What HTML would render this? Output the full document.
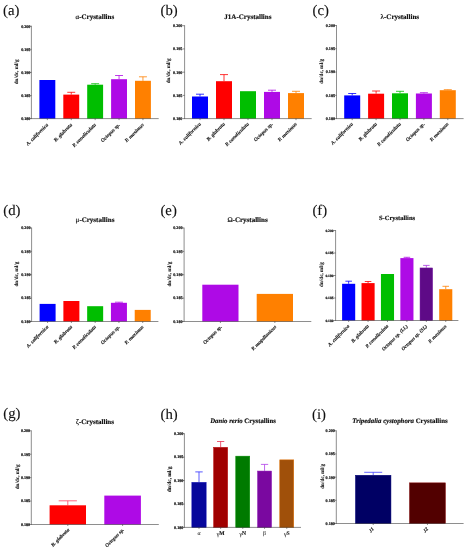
<!DOCTYPE html>
<html><head><meta charset="utf-8"><title>Crystallins dn/dc</title>
<style>
html,body{margin:0;padding:0;background:#fff;}
svg{display:block;font-family:"Liberation Serif", serif;fill:#000;}
svg text{fill:#111;}
</style></head><body>
<svg width="468" height="550" viewBox="0 0 468 550" text-rendering="geometricPrecision">
<rect width="468" height="550" fill="#fff"/>
<rect x="39.40" y="80.00" width="15.90" height="38.60" fill="#0000FF"/>
<path d="M71.25 94.60V92.30M67.28 92.30H75.22" stroke="#FF0000" stroke-width="0.8" fill="none"/>
<rect x="63.30" y="94.60" width="15.90" height="24.00" fill="#FF0000"/>
<path d="M95.15 84.70V83.70M91.17 83.70H99.12" stroke="#00BE00" stroke-width="0.8" fill="none"/>
<rect x="87.20" y="84.70" width="15.90" height="33.90" fill="#00BE00"/>
<path d="M119.05 79.20V75.50M115.07 75.50H123.03" stroke="#AE0AE6" stroke-width="0.8" fill="none"/>
<rect x="111.10" y="79.20" width="15.90" height="39.40" fill="#AE0AE6"/>
<path d="M142.95 80.80V76.80M138.97 76.80H146.92" stroke="#FF8000" stroke-width="0.8" fill="none"/>
<rect x="135.00" y="80.80" width="15.90" height="37.80" fill="#FF8000"/>
<path d="M31.40 25.80V118.60M31.00 118.60H158.70" stroke="#303030" stroke-width="0.55" fill="none"/>
<path d="M29.40 26.20H31.40" stroke="#303030" stroke-width="0.55"/>
<text transform="translate(30.40 27.55) scale(0.1)" font-size="41.0" font-weight="bold" text-anchor="end" stroke="#111" stroke-width="2.00">0.200</text>
<path d="M29.40 49.30H31.40" stroke="#303030" stroke-width="0.55"/>
<text transform="translate(30.40 50.65) scale(0.1)" font-size="41.0" font-weight="bold" text-anchor="end" stroke="#111" stroke-width="2.00">0.195</text>
<path d="M29.40 72.40H31.40" stroke="#303030" stroke-width="0.55"/>
<text transform="translate(30.40 73.75) scale(0.1)" font-size="41.0" font-weight="bold" text-anchor="end" stroke="#111" stroke-width="2.00">0.190</text>
<path d="M29.40 95.50H31.40" stroke="#303030" stroke-width="0.55"/>
<text transform="translate(30.40 96.85) scale(0.1)" font-size="41.0" font-weight="bold" text-anchor="end" stroke="#111" stroke-width="2.00">0.185</text>
<path d="M29.40 118.60H31.40" stroke="#303030" stroke-width="0.55"/>
<text transform="translate(30.40 119.95) scale(0.1)" font-size="41.0" font-weight="bold" text-anchor="end" stroke="#111" stroke-width="2.00">0.180</text>
<text transform="translate(18.30 71.90) rotate(-90) scale(0.1)" font-size="52.0" font-weight="bold" text-anchor="middle" stroke="#111" stroke-width="0.90">dn/dc, ml/g</text>
<path d="M47.35 118.60v1.5" stroke="#303030" stroke-width="0.55"/>
<text transform="translate(48.55 125.20) rotate(-45) scale(0.1)" font-size="51.5" font-weight="bold" font-style="italic" text-anchor="end" stroke="#111" stroke-width="1.20">A. californica</text>
<path d="M71.25 118.60v1.5" stroke="#303030" stroke-width="0.55"/>
<text transform="translate(72.45 125.20) rotate(-45) scale(0.1)" font-size="51.5" font-weight="bold" font-style="italic" text-anchor="end" stroke="#111" stroke-width="1.20">B. glabrata</text>
<path d="M95.15 118.60v1.5" stroke="#303030" stroke-width="0.55"/>
<text transform="translate(96.35 125.20) rotate(-45) scale(0.1)" font-size="51.5" font-weight="bold" font-style="italic" text-anchor="end" stroke="#111" stroke-width="1.20">P. canaliculata</text>
<path d="M119.05 118.60v1.5" stroke="#303030" stroke-width="0.55"/>
<text transform="translate(120.25 125.20) rotate(-45) scale(0.1)" font-size="51.5" font-weight="bold" font-style="italic" text-anchor="end" stroke="#111" stroke-width="1.20">Octopus sp.</text>
<path d="M142.95 118.60v1.5" stroke="#303030" stroke-width="0.55"/>
<text transform="translate(144.15 125.20) rotate(-45) scale(0.1)" font-size="51.5" font-weight="bold" font-style="italic" text-anchor="end" stroke="#111" stroke-width="1.20">P. maximus</text>
<text transform="translate(94.80 19.10) scale(0.1)" font-size="70.0" font-weight="bold" text-anchor="middle" stroke="#111" stroke-width="1.80"><tspan font-weight="normal">α</tspan>-Crystallins</text>
<text transform="translate(3.00 15.30) scale(0.1)" font-size="148.0" font-weight="normal" text-anchor="start" stroke="#111" stroke-width="1.20">(a)</text>
<path d="M200.00 96.50V94.20M196.00 94.20H204.00" stroke="#0000FF" stroke-width="0.8" fill="none"/>
<rect x="192.00" y="96.50" width="16.00" height="22.10" fill="#0000FF"/>
<path d="M224.00 81.20V74.60M220.00 74.60H228.00" stroke="#FF0000" stroke-width="0.8" fill="none"/>
<rect x="216.00" y="81.20" width="16.00" height="37.40" fill="#FF0000"/>
<rect x="240.00" y="91.20" width="16.00" height="27.40" fill="#00BE00"/>
<path d="M272.00 91.90V90.20M268.00 90.20H276.00" stroke="#AE0AE6" stroke-width="0.8" fill="none"/>
<rect x="264.00" y="91.90" width="16.00" height="26.70" fill="#AE0AE6"/>
<path d="M296.00 93.10V91.30M292.00 91.30H300.00" stroke="#FF8000" stroke-width="0.8" fill="none"/>
<rect x="288.00" y="93.10" width="16.00" height="25.50" fill="#FF8000"/>
<path d="M184.60 25.30V118.60M184.20 118.60H311.70" stroke="#303030" stroke-width="0.55" fill="none"/>
<path d="M182.60 25.70H184.60" stroke="#303030" stroke-width="0.55"/>
<text transform="translate(182.30 27.05) scale(0.1)" font-size="41.0" font-weight="bold" text-anchor="end" stroke="#111" stroke-width="2.00">0.200</text>
<path d="M182.60 48.92H184.60" stroke="#303030" stroke-width="0.55"/>
<text transform="translate(182.30 50.28) scale(0.1)" font-size="41.0" font-weight="bold" text-anchor="end" stroke="#111" stroke-width="2.00">0.195</text>
<path d="M182.60 72.15H184.60" stroke="#303030" stroke-width="0.55"/>
<text transform="translate(182.30 73.50) scale(0.1)" font-size="41.0" font-weight="bold" text-anchor="end" stroke="#111" stroke-width="2.00">0.190</text>
<path d="M182.60 95.38H184.60" stroke="#303030" stroke-width="0.55"/>
<text transform="translate(182.30 96.73) scale(0.1)" font-size="41.0" font-weight="bold" text-anchor="end" stroke="#111" stroke-width="2.00">0.185</text>
<path d="M182.60 118.60H184.60" stroke="#303030" stroke-width="0.55"/>
<text transform="translate(182.30 119.95) scale(0.1)" font-size="41.0" font-weight="bold" text-anchor="end" stroke="#111" stroke-width="2.00">0.180</text>
<text transform="translate(170.40 70.85) rotate(-90) scale(0.1)" font-size="52.0" font-weight="bold" text-anchor="middle" stroke="#111" stroke-width="0.90">dn/dc, ml/g</text>
<path d="M200.00 118.60v1.5" stroke="#303030" stroke-width="0.55"/>
<text transform="translate(201.20 124.40) rotate(-45) scale(0.1)" font-size="51.5" font-weight="bold" font-style="italic" text-anchor="end" stroke="#111" stroke-width="1.20">A. californica</text>
<path d="M224.00 118.60v1.5" stroke="#303030" stroke-width="0.55"/>
<text transform="translate(225.20 124.40) rotate(-45) scale(0.1)" font-size="51.5" font-weight="bold" font-style="italic" text-anchor="end" stroke="#111" stroke-width="1.20">B. glabrata</text>
<path d="M248.00 118.60v1.5" stroke="#303030" stroke-width="0.55"/>
<text transform="translate(249.20 124.40) rotate(-45) scale(0.1)" font-size="51.5" font-weight="bold" font-style="italic" text-anchor="end" stroke="#111" stroke-width="1.20">P. canaliculata</text>
<path d="M272.00 118.60v1.5" stroke="#303030" stroke-width="0.55"/>
<text transform="translate(273.20 124.40) rotate(-45) scale(0.1)" font-size="51.5" font-weight="bold" font-style="italic" text-anchor="end" stroke="#111" stroke-width="1.20">Octopus sp.</text>
<path d="M296.00 118.60v1.5" stroke="#303030" stroke-width="0.55"/>
<text transform="translate(297.20 124.40) rotate(-45) scale(0.1)" font-size="51.5" font-weight="bold" font-style="italic" text-anchor="end" stroke="#111" stroke-width="1.20">P. maximus</text>
<text transform="translate(247.90 18.80) scale(0.1)" font-size="70.0" font-weight="bold" text-anchor="middle" stroke="#111" stroke-width="1.80">J1A-Crystallins</text>
<text transform="translate(160.50 15.30) scale(0.1)" font-size="148.0" font-weight="normal" text-anchor="start" stroke="#111" stroke-width="1.20">(b)</text>
<path d="M352.20 95.40V93.50M348.20 93.50H356.20" stroke="#0000FF" stroke-width="0.8" fill="none"/>
<rect x="344.20" y="95.40" width="16.00" height="23.20" fill="#0000FF"/>
<path d="M376.10 93.70V91.00M372.10 91.00H380.10" stroke="#FF0000" stroke-width="0.8" fill="none"/>
<rect x="368.10" y="93.70" width="16.00" height="24.90" fill="#FF0000"/>
<path d="M400.00 93.30V91.30M396.00 91.30H404.00" stroke="#00BE00" stroke-width="0.8" fill="none"/>
<rect x="392.00" y="93.30" width="16.00" height="25.30" fill="#00BE00"/>
<path d="M423.90 93.50V92.70M419.90 92.70H427.90" stroke="#AE0AE6" stroke-width="0.8" fill="none"/>
<rect x="415.90" y="93.50" width="16.00" height="25.10" fill="#AE0AE6"/>
<path d="M447.80 90.20V89.70M443.80 89.70H451.80" stroke="#FF8000" stroke-width="0.8" fill="none"/>
<rect x="439.80" y="90.20" width="16.00" height="28.40" fill="#FF8000"/>
<path d="M336.50 25.10V118.60M336.10 118.60H463.60" stroke="#303030" stroke-width="0.55" fill="none"/>
<path d="M334.50 25.50H336.50" stroke="#303030" stroke-width="0.55"/>
<text transform="translate(335.00 26.85) scale(0.1)" font-size="41.0" font-weight="bold" text-anchor="end" stroke="#111" stroke-width="2.00">0.200</text>
<path d="M334.50 48.77H336.50" stroke="#303030" stroke-width="0.55"/>
<text transform="translate(335.00 50.13) scale(0.1)" font-size="41.0" font-weight="bold" text-anchor="end" stroke="#111" stroke-width="2.00">0.195</text>
<path d="M334.50 72.05H336.50" stroke="#303030" stroke-width="0.55"/>
<text transform="translate(335.00 73.40) scale(0.1)" font-size="41.0" font-weight="bold" text-anchor="end" stroke="#111" stroke-width="2.00">0.190</text>
<path d="M334.50 95.32H336.50" stroke="#303030" stroke-width="0.55"/>
<text transform="translate(335.00 96.68) scale(0.1)" font-size="41.0" font-weight="bold" text-anchor="end" stroke="#111" stroke-width="2.00">0.185</text>
<path d="M334.50 118.60H336.50" stroke="#303030" stroke-width="0.55"/>
<text transform="translate(335.00 119.95) scale(0.1)" font-size="41.0" font-weight="bold" text-anchor="end" stroke="#111" stroke-width="2.00">0.180</text>
<text transform="translate(323.00 71.25) rotate(-90) scale(0.1)" font-size="52.0" font-weight="bold" text-anchor="middle" stroke="#111" stroke-width="0.90">dn/dc, ml/g</text>
<path d="M352.20 118.60v1.5" stroke="#303030" stroke-width="0.55"/>
<text transform="translate(353.40 124.40) rotate(-45) scale(0.1)" font-size="51.5" font-weight="bold" font-style="italic" text-anchor="end" stroke="#111" stroke-width="1.20">A. californica</text>
<path d="M376.10 118.60v1.5" stroke="#303030" stroke-width="0.55"/>
<text transform="translate(377.30 124.40) rotate(-45) scale(0.1)" font-size="51.5" font-weight="bold" font-style="italic" text-anchor="end" stroke="#111" stroke-width="1.20">B. glabrata</text>
<path d="M400.00 118.60v1.5" stroke="#303030" stroke-width="0.55"/>
<text transform="translate(401.20 124.40) rotate(-45) scale(0.1)" font-size="51.5" font-weight="bold" font-style="italic" text-anchor="end" stroke="#111" stroke-width="1.20">P. canaliculata</text>
<path d="M423.90 118.60v1.5" stroke="#303030" stroke-width="0.55"/>
<text transform="translate(425.10 124.40) rotate(-45) scale(0.1)" font-size="51.5" font-weight="bold" font-style="italic" text-anchor="end" stroke="#111" stroke-width="1.20">Octopus sp.</text>
<path d="M447.80 118.60v1.5" stroke="#303030" stroke-width="0.55"/>
<text transform="translate(449.00 124.40) rotate(-45) scale(0.1)" font-size="51.5" font-weight="bold" font-style="italic" text-anchor="end" stroke="#111" stroke-width="1.20">P. maximus</text>
<text transform="translate(399.80 18.90) scale(0.1)" font-size="70.0" font-weight="bold" text-anchor="middle" stroke="#111" stroke-width="1.80"><tspan font-weight="normal">λ</tspan>-Crystallins</text>
<text transform="translate(312.60 15.30) scale(0.1)" font-size="148.0" font-weight="normal" text-anchor="start" stroke="#111" stroke-width="1.20">(c)</text>
<rect x="39.60" y="303.90" width="16.00" height="17.60" fill="#0000FF"/>
<rect x="63.38" y="301.00" width="16.00" height="20.50" fill="#FF0000"/>
<rect x="87.16" y="306.20" width="16.00" height="15.30" fill="#00BE00"/>
<path d="M118.94 302.80V302.20M114.94 302.20H122.94" stroke="#AE0AE6" stroke-width="0.8" fill="none"/>
<rect x="110.94" y="302.80" width="16.00" height="18.70" fill="#AE0AE6"/>
<rect x="134.72" y="309.90" width="16.00" height="11.60" fill="#FF8000"/>
<path d="M31.60 227.60V321.50M31.20 321.50H158.40" stroke="#303030" stroke-width="0.55" fill="none"/>
<path d="M29.60 228.00H31.60" stroke="#303030" stroke-width="0.55"/>
<text transform="translate(30.50 229.35) scale(0.1)" font-size="41.0" font-weight="bold" text-anchor="end" stroke="#111" stroke-width="2.00">0.200</text>
<path d="M29.60 251.38H31.60" stroke="#303030" stroke-width="0.55"/>
<text transform="translate(30.50 252.73) scale(0.1)" font-size="41.0" font-weight="bold" text-anchor="end" stroke="#111" stroke-width="2.00">0.195</text>
<path d="M29.60 274.75H31.60" stroke="#303030" stroke-width="0.55"/>
<text transform="translate(30.50 276.10) scale(0.1)" font-size="41.0" font-weight="bold" text-anchor="end" stroke="#111" stroke-width="2.00">0.190</text>
<path d="M29.60 298.12H31.60" stroke="#303030" stroke-width="0.55"/>
<text transform="translate(30.50 299.48) scale(0.1)" font-size="41.0" font-weight="bold" text-anchor="end" stroke="#111" stroke-width="2.00">0.185</text>
<path d="M29.60 321.50H31.60" stroke="#303030" stroke-width="0.55"/>
<text transform="translate(30.50 322.85) scale(0.1)" font-size="41.0" font-weight="bold" text-anchor="end" stroke="#111" stroke-width="2.00">0.180</text>
<text transform="translate(17.80 274.15) rotate(-90) scale(0.1)" font-size="52.0" font-weight="bold" text-anchor="middle" stroke="#111" stroke-width="0.90">dn/dc, ml/g</text>
<path d="M47.60 321.50v1.5" stroke="#303030" stroke-width="0.55"/>
<text transform="translate(48.80 327.30) rotate(-45) scale(0.1)" font-size="51.5" font-weight="bold" font-style="italic" text-anchor="end" stroke="#111" stroke-width="1.20">A. californica</text>
<path d="M71.38 321.50v1.5" stroke="#303030" stroke-width="0.55"/>
<text transform="translate(72.58 327.30) rotate(-45) scale(0.1)" font-size="51.5" font-weight="bold" font-style="italic" text-anchor="end" stroke="#111" stroke-width="1.20">B. glabrata</text>
<path d="M95.16 321.50v1.5" stroke="#303030" stroke-width="0.55"/>
<text transform="translate(96.36 327.30) rotate(-45) scale(0.1)" font-size="51.5" font-weight="bold" font-style="italic" text-anchor="end" stroke="#111" stroke-width="1.20">P. canaliculata</text>
<path d="M118.94 321.50v1.5" stroke="#303030" stroke-width="0.55"/>
<text transform="translate(120.14 327.30) rotate(-45) scale(0.1)" font-size="51.5" font-weight="bold" font-style="italic" text-anchor="end" stroke="#111" stroke-width="1.20">Octopus sp.</text>
<path d="M142.72 321.50v1.5" stroke="#303030" stroke-width="0.55"/>
<text transform="translate(143.92 327.30) rotate(-45) scale(0.1)" font-size="51.5" font-weight="bold" font-style="italic" text-anchor="end" stroke="#111" stroke-width="1.20">P. maximus</text>
<text transform="translate(95.00 221.50) scale(0.1)" font-size="70.0" font-weight="bold" text-anchor="middle" stroke="#111" stroke-width="1.80"><tspan font-weight="normal">μ</tspan>-Crystallins</text>
<text transform="translate(3.20 215.00) scale(0.1)" font-size="148.0" font-weight="normal" text-anchor="start" stroke="#111" stroke-width="1.20">(d)</text>
<rect x="202.30" y="284.70" width="36.20" height="36.80" fill="#AE0AE6"/>
<rect x="256.70" y="293.90" width="36.30" height="27.60" fill="#FF8000"/>
<path d="M184.10 227.60V321.50M183.70 321.50H311.30" stroke="#303030" stroke-width="0.55" fill="none"/>
<path d="M182.10 228.00H184.10" stroke="#303030" stroke-width="0.55"/>
<text transform="translate(182.50 229.35) scale(0.1)" font-size="41.0" font-weight="bold" text-anchor="end" stroke="#111" stroke-width="2.00">0.200</text>
<path d="M182.10 251.38H184.10" stroke="#303030" stroke-width="0.55"/>
<text transform="translate(182.50 252.73) scale(0.1)" font-size="41.0" font-weight="bold" text-anchor="end" stroke="#111" stroke-width="2.00">0.195</text>
<path d="M182.10 274.75H184.10" stroke="#303030" stroke-width="0.55"/>
<text transform="translate(182.50 276.10) scale(0.1)" font-size="41.0" font-weight="bold" text-anchor="end" stroke="#111" stroke-width="2.00">0.190</text>
<path d="M182.10 298.12H184.10" stroke="#303030" stroke-width="0.55"/>
<text transform="translate(182.50 299.48) scale(0.1)" font-size="41.0" font-weight="bold" text-anchor="end" stroke="#111" stroke-width="2.00">0.185</text>
<path d="M182.10 321.50H184.10" stroke="#303030" stroke-width="0.55"/>
<text transform="translate(182.50 322.85) scale(0.1)" font-size="41.0" font-weight="bold" text-anchor="end" stroke="#111" stroke-width="2.00">0.180</text>
<text transform="translate(171.10 274.15) rotate(-90) scale(0.1)" font-size="52.0" font-weight="bold" text-anchor="middle" stroke="#111" stroke-width="0.90">dn/dc, ml/g</text>
<path d="M220.40 321.50v1.5" stroke="#303030" stroke-width="0.55"/>
<text transform="translate(222.30 327.20) rotate(-45) scale(0.1)" font-size="51.5" font-weight="bold" font-style="italic" text-anchor="end" stroke="#111" stroke-width="1.20">Octopus sp.</text>
<path d="M274.85 321.50v1.5" stroke="#303030" stroke-width="0.55"/>
<text transform="translate(276.75 327.20) rotate(-45) scale(0.1)" font-size="51.5" font-weight="bold" font-style="italic" text-anchor="end" stroke="#111" stroke-width="1.20">P. magellanicus</text>
<text transform="translate(247.50 221.70) scale(0.1)" font-size="70.0" font-weight="bold" text-anchor="middle" stroke="#111" stroke-width="1.80"><tspan font-weight="normal">Ω</tspan>-Crystallins</text>
<text transform="translate(160.40 215.00) scale(0.1)" font-size="148.0" font-weight="normal" text-anchor="start" stroke="#111" stroke-width="1.20">(e)</text>
<path d="M348.65 283.80V281.20M345.38 281.20H351.93" stroke="#0000FF" stroke-width="0.8" fill="none"/>
<rect x="342.10" y="283.80" width="13.10" height="36.70" fill="#0000FF"/>
<path d="M368.07 283.10V281.50M364.80 281.50H371.35" stroke="#FF0000" stroke-width="0.8" fill="none"/>
<rect x="361.52" y="283.10" width="13.10" height="37.40" fill="#FF0000"/>
<rect x="380.94" y="274.00" width="13.10" height="46.50" fill="#00BE00"/>
<path d="M406.91 258.10V257.30M403.63 257.30H410.19" stroke="#AE0AE6" stroke-width="0.8" fill="none"/>
<rect x="400.36" y="258.10" width="13.10" height="62.40" fill="#AE0AE6"/>
<path d="M426.33 267.70V265.40M423.06 265.40H429.61" stroke="#A838E0" stroke-width="0.8" fill="none"/>
<rect x="420.03" y="267.95" width="12.60" height="52.55" fill="#5E0A87" stroke="#7418A0" stroke-width="0.5"/>
<path d="M445.75 289.20V286.30M442.48 286.30H449.03" stroke="#FF8000" stroke-width="0.8" fill="none"/>
<rect x="439.20" y="289.20" width="13.10" height="31.30" fill="#FF8000"/>
<path d="M335.60 230.10V320.50M335.20 320.50H458.40" stroke="#303030" stroke-width="0.55" fill="none"/>
<path d="M333.60 230.50H335.60" stroke="#303030" stroke-width="0.55"/>
<text transform="translate(333.50 231.69) scale(0.1)" font-size="36.0" font-weight="bold" text-anchor="end" stroke="#111" stroke-width="2.00">0.200</text>
<path d="M333.60 253.00H335.60" stroke="#303030" stroke-width="0.55"/>
<text transform="translate(333.50 254.19) scale(0.1)" font-size="36.0" font-weight="bold" text-anchor="end" stroke="#111" stroke-width="2.00">0.195</text>
<path d="M333.60 275.50H335.60" stroke="#303030" stroke-width="0.55"/>
<text transform="translate(333.50 276.69) scale(0.1)" font-size="36.0" font-weight="bold" text-anchor="end" stroke="#111" stroke-width="2.00">0.190</text>
<path d="M333.60 298.00H335.60" stroke="#303030" stroke-width="0.55"/>
<text transform="translate(333.50 299.19) scale(0.1)" font-size="36.0" font-weight="bold" text-anchor="end" stroke="#111" stroke-width="2.00">0.185</text>
<path d="M333.60 320.50H335.60" stroke="#303030" stroke-width="0.55"/>
<text transform="translate(333.50 321.69) scale(0.1)" font-size="36.0" font-weight="bold" text-anchor="end" stroke="#111" stroke-width="2.00">0.180</text>
<text transform="translate(323.00 274.50) rotate(-90) scale(0.1)" font-size="52.0" font-weight="bold" text-anchor="middle" stroke="#111" stroke-width="0.90">dn/dc, ml/g</text>
<path d="M348.65 320.50v1.5" stroke="#303030" stroke-width="0.55"/>
<text transform="translate(349.85 326.60) rotate(-45) scale(0.1)" font-size="50.0" font-weight="bold" font-style="italic" text-anchor="end" stroke="#111" stroke-width="1.20">A. californica</text>
<path d="M368.07 320.50v1.5" stroke="#303030" stroke-width="0.55"/>
<text transform="translate(369.27 326.60) rotate(-45) scale(0.1)" font-size="50.0" font-weight="bold" font-style="italic" text-anchor="end" stroke="#111" stroke-width="1.20">B. glabrata</text>
<path d="M387.49 320.50v1.5" stroke="#303030" stroke-width="0.55"/>
<text transform="translate(388.69 326.60) rotate(-45) scale(0.1)" font-size="50.0" font-weight="bold" font-style="italic" text-anchor="end" stroke="#111" stroke-width="1.20">P. canaliculata</text>
<path d="M406.91 320.50v1.5" stroke="#303030" stroke-width="0.55"/>
<text transform="translate(408.11 326.60) rotate(-45) scale(0.1)" font-size="50.0" font-weight="bold" font-style="italic" text-anchor="end" stroke="#111" stroke-width="1.20">Octopus sp. (LL)</text>
<path d="M426.33 320.50v1.5" stroke="#303030" stroke-width="0.55"/>
<text transform="translate(427.53 326.60) rotate(-45) scale(0.1)" font-size="50.0" font-weight="bold" font-style="italic" text-anchor="end" stroke="#111" stroke-width="1.20">Octopus sp. (SL)</text>
<path d="M445.75 320.50v1.5" stroke="#303030" stroke-width="0.55"/>
<text transform="translate(446.95 326.60) rotate(-45) scale(0.1)" font-size="50.0" font-weight="bold" font-style="italic" text-anchor="end" stroke="#111" stroke-width="1.20">P. maximus</text>
<text transform="translate(397.00 220.40) scale(0.1)" font-size="65.0" font-weight="bold" text-anchor="middle" stroke="#111" stroke-width="1.80">S-Crystallins</text>
<text transform="translate(312.40 215.00) scale(0.1)" font-size="148.0" font-weight="normal" text-anchor="start" stroke="#111" stroke-width="1.20">(f)</text>
<path d="M67.80 505.30V500.80M58.70 500.80H76.90" stroke="#FF4060" stroke-width="0.8" fill="none"/>
<rect x="49.60" y="505.30" width="36.40" height="19.20" fill="#FF0000"/>
<rect x="104.30" y="495.60" width="36.60" height="28.90" fill="#AE0AE6"/>
<path d="M31.30 430.40V524.50M30.90 524.50H158.80" stroke="#303030" stroke-width="0.55" fill="none"/>
<path d="M29.30 430.80H31.30" stroke="#303030" stroke-width="0.55"/>
<text transform="translate(30.10 432.15) scale(0.1)" font-size="41.0" font-weight="bold" text-anchor="end" stroke="#111" stroke-width="2.00">0.200</text>
<path d="M29.30 454.23H31.30" stroke="#303030" stroke-width="0.55"/>
<text transform="translate(30.10 455.58) scale(0.1)" font-size="41.0" font-weight="bold" text-anchor="end" stroke="#111" stroke-width="2.00">0.195</text>
<path d="M29.30 477.65H31.30" stroke="#303030" stroke-width="0.55"/>
<text transform="translate(30.10 479.00) scale(0.1)" font-size="41.0" font-weight="bold" text-anchor="end" stroke="#111" stroke-width="2.00">0.190</text>
<path d="M29.30 501.07H31.30" stroke="#303030" stroke-width="0.55"/>
<text transform="translate(30.10 502.43) scale(0.1)" font-size="41.0" font-weight="bold" text-anchor="end" stroke="#111" stroke-width="2.00">0.185</text>
<path d="M29.30 524.50H31.30" stroke="#303030" stroke-width="0.55"/>
<text transform="translate(30.10 525.85) scale(0.1)" font-size="41.0" font-weight="bold" text-anchor="end" stroke="#111" stroke-width="2.00">0.180</text>
<text transform="translate(18.50 476.85) rotate(-90) scale(0.1)" font-size="52.0" font-weight="bold" text-anchor="middle" stroke="#111" stroke-width="0.90">dn/dc, ml/g</text>
<path d="M67.80 524.50v1.5" stroke="#303030" stroke-width="0.55"/>
<text transform="translate(69.70 530.10) rotate(-45) scale(0.1)" font-size="51.5" font-weight="bold" font-style="italic" text-anchor="end" stroke="#111" stroke-width="1.20">B. glabrata</text>
<path d="M122.60 524.50v1.5" stroke="#303030" stroke-width="0.55"/>
<text transform="translate(124.50 530.10) rotate(-45) scale(0.1)" font-size="51.5" font-weight="bold" font-style="italic" text-anchor="end" stroke="#111" stroke-width="1.20">Octopus sp.</text>
<text transform="translate(95.00 424.00) scale(0.1)" font-size="70.0" font-weight="bold" text-anchor="middle" stroke="#111" stroke-width="1.80"><tspan font-weight="normal">ζ</tspan>-Crystallins</text>
<text transform="translate(3.20 418.30) scale(0.1)" font-size="148.0" font-weight="normal" text-anchor="start" stroke="#111" stroke-width="1.20">(g)</text>
<path d="M199.00 482.10V471.90M195.30 471.90H202.70" stroke="#3030FF" stroke-width="0.8" fill="none"/>
<rect x="191.85" y="482.35" width="14.30" height="45.05" fill="#06069C" stroke="#0808B0" stroke-width="0.5"/>
<path d="M220.65 447.10V441.50M217.03 441.50H224.28" stroke="#E83050" stroke-width="0.8" fill="none"/>
<rect x="213.65" y="447.35" width="14.00" height="80.05" fill="#A00000" stroke="#B80000" stroke-width="0.5"/>
<rect x="235.75" y="456.15" width="14.00" height="71.25" fill="#007A00" stroke="#009000" stroke-width="0.5"/>
<path d="M264.55 470.80V464.40M260.93 464.40H268.18" stroke="#B040E8" stroke-width="0.8" fill="none"/>
<rect x="257.55" y="471.05" width="14.00" height="56.35" fill="#7A08A0" stroke="#8A10B4" stroke-width="0.5"/>
<rect x="279.75" y="459.85" width="14.00" height="67.55" fill="#A0500A" stroke="#E07000" stroke-width="0.5"/>
<path d="M184.40 433.30V527.40M184.00 527.40H301.00" stroke="#303030" stroke-width="0.55" fill="none"/>
<path d="M182.40 433.70H184.40" stroke="#303030" stroke-width="0.55"/>
<text transform="translate(183.30 435.05) scale(0.1)" font-size="41.0" font-weight="bold" text-anchor="end" stroke="#111" stroke-width="2.00">0.200</text>
<path d="M182.40 457.12H184.40" stroke="#303030" stroke-width="0.55"/>
<text transform="translate(183.30 458.48) scale(0.1)" font-size="41.0" font-weight="bold" text-anchor="end" stroke="#111" stroke-width="2.00">0.195</text>
<path d="M182.40 480.55H184.40" stroke="#303030" stroke-width="0.55"/>
<text transform="translate(183.30 481.90) scale(0.1)" font-size="41.0" font-weight="bold" text-anchor="end" stroke="#111" stroke-width="2.00">0.190</text>
<path d="M182.40 503.97H184.40" stroke="#303030" stroke-width="0.55"/>
<text transform="translate(183.30 505.33) scale(0.1)" font-size="41.0" font-weight="bold" text-anchor="end" stroke="#111" stroke-width="2.00">0.185</text>
<path d="M182.40 527.40H184.40" stroke="#303030" stroke-width="0.55"/>
<text transform="translate(183.30 528.75) scale(0.1)" font-size="41.0" font-weight="bold" text-anchor="end" stroke="#111" stroke-width="2.00">0.180</text>
<text transform="translate(171.35 479.35) rotate(-90) scale(0.1)" font-size="54.0" font-weight="bold" text-anchor="middle" stroke="#111" stroke-width="0.90">dn/dc, ml/g</text>
<path d="M199.00 527.40v1.5" stroke="#303030" stroke-width="0.55"/>
<text transform="translate(199.00 535.00) scale(0.1)" font-size="56.0" font-weight="bold" text-anchor="middle" stroke="#111" stroke-width="1.20"><tspan font-weight="normal" stroke-width="0.4" font-size="58" dy="0">α</tspan></text>
<path d="M220.65 527.40v1.5" stroke="#303030" stroke-width="0.55"/>
<text transform="translate(220.65 535.00) scale(0.1)" font-size="56.0" font-weight="bold" text-anchor="middle" stroke="#111" stroke-width="1.20"><tspan font-weight="normal" stroke-width="0.4" font-size="58" dy="8">γ</tspan><tspan dy="-8">M</tspan></text>
<path d="M242.75 527.40v1.5" stroke="#303030" stroke-width="0.55"/>
<text transform="translate(242.75 535.00) scale(0.1)" font-size="56.0" font-weight="bold" text-anchor="middle" stroke="#111" stroke-width="1.20"><tspan font-weight="normal" stroke-width="0.4" font-size="58" dy="8">γ</tspan><tspan dy="-8">N</tspan></text>
<path d="M264.55 527.40v1.5" stroke="#303030" stroke-width="0.55"/>
<text transform="translate(264.55 535.00) scale(0.1)" font-size="56.0" font-weight="bold" text-anchor="middle" stroke="#111" stroke-width="1.20"><tspan font-weight="normal" stroke-width="0.4" font-size="58" dy="0">β</tspan></text>
<path d="M286.75 527.40v1.5" stroke="#303030" stroke-width="0.55"/>
<text transform="translate(286.75 535.00) scale(0.1)" font-size="56.0" font-weight="bold" text-anchor="middle" stroke="#111" stroke-width="1.20"><tspan font-weight="normal" stroke-width="0.4" font-size="58" dy="8">γ</tspan><tspan dy="-8">S</tspan></text>
<text transform="translate(243.00 423.30) scale(0.1)" font-size="67.5" font-weight="bold" text-anchor="middle" stroke="#111" stroke-width="1.80"><tspan font-style="italic">Danio rerio</tspan> Crystallins</text>
<text transform="translate(160.50 418.70) scale(0.1)" font-size="148.0" font-weight="normal" text-anchor="start" stroke="#111" stroke-width="1.20">(h)</text>
<path d="M373.20 475.00V472.30M364.20 472.30H382.20" stroke="#4040FF" stroke-width="0.8" fill="none"/>
<rect x="355.45" y="475.25" width="35.50" height="48.25" fill="#000064" stroke="#000078" stroke-width="0.5"/>
<rect x="409.45" y="482.85" width="36.00" height="40.65" fill="#520000" stroke="#8A1010" stroke-width="0.5"/>
<path d="M336.30 430.40V523.50M335.90 523.50H463.60" stroke="#303030" stroke-width="0.55" fill="none"/>
<path d="M334.30 430.80H336.30" stroke="#303030" stroke-width="0.55"/>
<text transform="translate(334.80 432.15) scale(0.1)" font-size="41.0" font-weight="bold" text-anchor="end" stroke="#111" stroke-width="2.00">0.200</text>
<path d="M334.30 453.98H336.30" stroke="#303030" stroke-width="0.55"/>
<text transform="translate(334.80 455.33) scale(0.1)" font-size="41.0" font-weight="bold" text-anchor="end" stroke="#111" stroke-width="2.00">0.195</text>
<path d="M334.30 477.15H336.30" stroke="#303030" stroke-width="0.55"/>
<text transform="translate(334.80 478.50) scale(0.1)" font-size="41.0" font-weight="bold" text-anchor="end" stroke="#111" stroke-width="2.00">0.190</text>
<path d="M334.30 500.32H336.30" stroke="#303030" stroke-width="0.55"/>
<text transform="translate(334.80 501.68) scale(0.1)" font-size="41.0" font-weight="bold" text-anchor="end" stroke="#111" stroke-width="2.00">0.185</text>
<path d="M334.30 523.50H336.30" stroke="#303030" stroke-width="0.55"/>
<text transform="translate(334.80 524.85) scale(0.1)" font-size="41.0" font-weight="bold" text-anchor="end" stroke="#111" stroke-width="2.00">0.180</text>
<text transform="translate(323.70 476.35) rotate(-90) scale(0.1)" font-size="52.0" font-weight="bold" text-anchor="middle" stroke="#111" stroke-width="0.90">dn/dc, ml/g</text>
<path d="M373.20 523.50v1.5" stroke="#303030" stroke-width="0.55"/>
<text transform="translate(374.40 529.30) rotate(-45) scale(0.1)" font-size="51.5" font-weight="bold" font-style="italic" text-anchor="end" stroke="#111" stroke-width="1.20">J1</text>
<path d="M427.45 523.50v1.5" stroke="#303030" stroke-width="0.55"/>
<text transform="translate(428.65 529.30) rotate(-45) scale(0.1)" font-size="51.5" font-weight="bold" font-style="italic" text-anchor="end" stroke="#111" stroke-width="1.20">J2</text>
<text transform="translate(400.00 423.20) scale(0.1)" font-size="68.5" font-weight="bold" text-anchor="middle" stroke="#111" stroke-width="1.80"><tspan font-style="italic">Tripedalia cystophora</tspan> Crystallins</text>
<text transform="translate(312.00 418.70) scale(0.1)" font-size="148.0" font-weight="normal" text-anchor="start" stroke="#111" stroke-width="1.20">(i)</text>
</svg>
</body></html>
